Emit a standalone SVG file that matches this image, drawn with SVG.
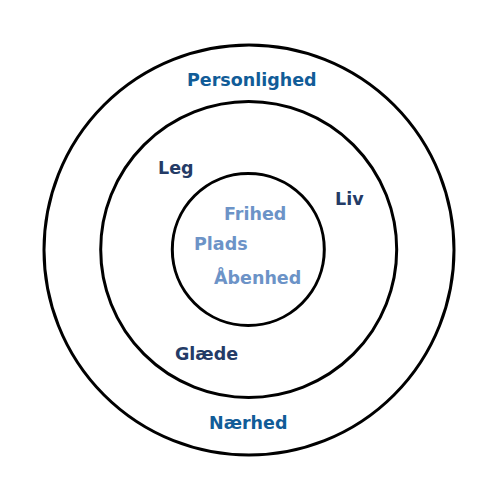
<svg xmlns="http://www.w3.org/2000/svg" width="500" height="500" viewBox="0 0 500 500">
<style>
.ring{fill:none;stroke:#000;stroke-width:3}
text{font-family:"DejaVu Sans",Verdana,sans-serif;font-weight:bold;font-size:17.5px}
.outer{fill:#115C98}
.mid{fill:#243B66}
.inner{fill:#6C93C7}
</style>
<rect width="500" height="500" fill="#fff"/>
<g id="ring-outer"><circle class="ring" cx="249" cy="250" r="205"/></g>
<g id="ring-middle"><circle class="ring" cx="248.7" cy="249.5" r="148"/></g>
<g id="ring-inner"><circle class="ring" cx="248.3" cy="249.5" r="76"/></g>
<g id="labels-outer">
<text class="outer" x="187" y="86">Personlighed</text>
<text class="outer" x="209" y="429">Nærhed</text>
</g>
<g id="labels-middle">
<text class="mid" x="158" y="174">Leg</text>
<text class="mid" x="335" y="205">Liv</text>
<text class="mid" x="175" y="360">Glæde</text>
</g>
<g id="labels-inner">
<text class="inner" x="224" y="220">Frihed</text>
<text class="inner" x="194" y="250">Plads</text>
<text class="inner" x="214" y="284">Åbenhed</text>
</g>
</svg>
